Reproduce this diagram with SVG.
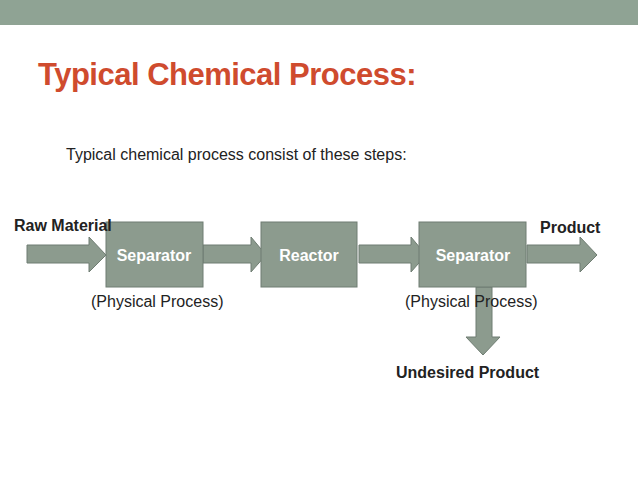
<svg xmlns="http://www.w3.org/2000/svg" width="638" height="478" viewBox="0 0 638 478">
<style>
.box{fill:#8c9b8e;stroke:#6f7d72;stroke-width:1}
.arr{fill:#8c9b8e;stroke:#6f7d72;stroke-width:1}
.w{font-family:"Liberation Sans",Arial,sans-serif;font-weight:bold;font-size:16px;fill:#fff;text-anchor:middle}
.b{font-family:"Liberation Sans",Arial,sans-serif;font-weight:bold;font-size:16px;fill:#222}
.n{font-family:"Liberation Sans",Arial,sans-serif;font-size:16px;fill:#222}
</style>
<rect width="638" height="478" fill="#fff"/>
<rect width="638" height="25" fill="#8fa394"/>
<text x="38" y="85" font-family="Liberation Sans,Arial,sans-serif" font-weight="bold" font-size="31" fill="#cf4b2e" letter-spacing="-0.5">Typical Chemical Process:</text>
<text x="66" y="160" class="n">Typical chemical process consist of these steps:</text>
<g id="connectors">
<polygon class="arr" points="27,245 89,245 89,237 106,255 89,272 89,263 27,263"/>
<polygon class="arr" points="203,245 251,245 251,237 266,255 251,272 251,263 203,263"/>
<polygon class="arr" points="359,245 411,245 411,237 426,255 411,272 411,263 359,263"/>
<polygon class="arr" points="527,245 580,245 580,237 597,255 580,272 580,263 527,263"/>
<polygon class="arr" points="476,287 492,287 492,337 500,337 483,355 466,337 476,337"/>
</g>
<g id="sep1"><rect class="box" x="106" y="222" width="97" height="65"/><text class="w" x="154" y="261">Separator</text></g>
<g id="reactor"><rect class="box" x="261" y="222" width="96" height="65"/><text class="w" x="309" y="261">Reactor</text></g>
<g id="sep2"><rect class="box" x="419" y="222" width="107" height="65"/><text class="w" x="473" y="261">Separator</text></g>
<text class="b" x="14" y="231">Raw Material</text>
<text class="b" x="540" y="233">Product</text>
<text class="n" x="91" y="307">(Physical Process)</text>
<text class="n" x="405" y="307">(Physical Process)</text>
<text class="b" x="396" y="378">Undesired Product</text>
</svg>
